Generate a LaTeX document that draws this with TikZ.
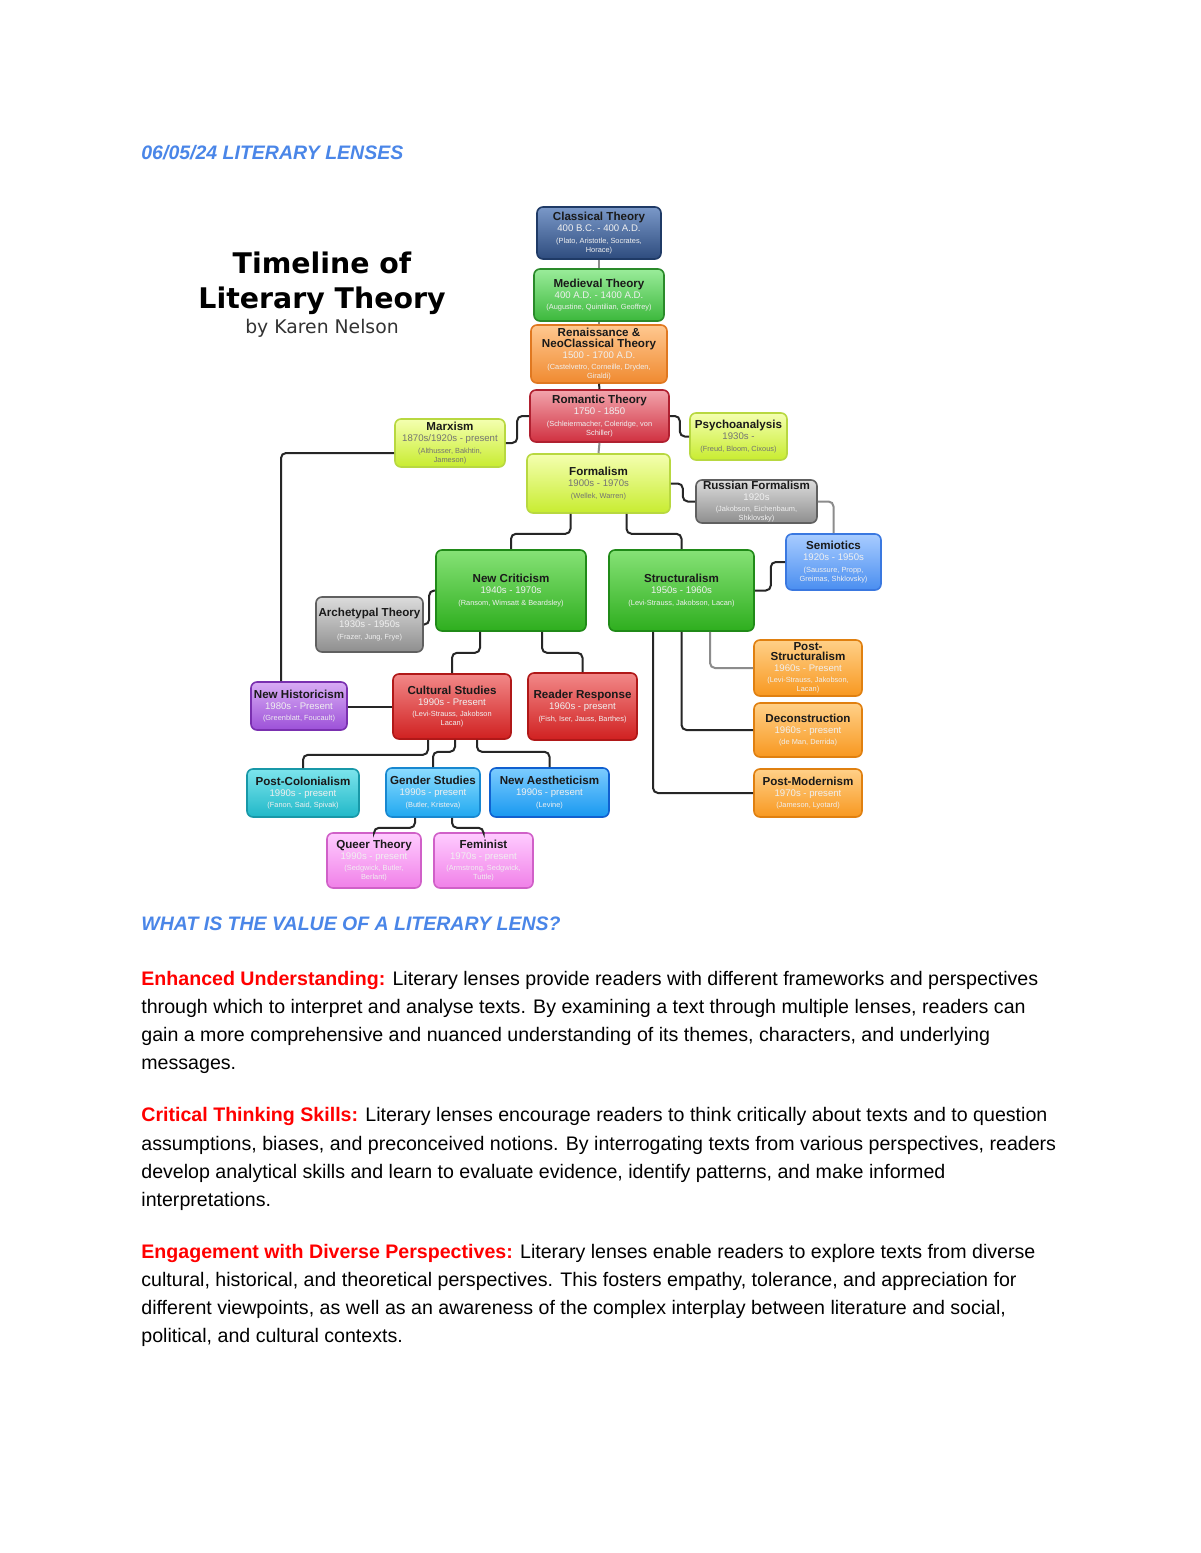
\documentclass[tikz,border=0pt]{standalone}
\usepackage{fontspec}
\setmainfont{Liberation Sans}
\setsansfont{Liberation Sans}
\newfontfamily\dejavu{DejaVu Sans}
\usetikzlibrary{calc}

\definecolor{hblue}{HTML}{4A86E8}
\definecolor{hred}{HTML}{FF0000}
\definecolor{ttl}{HTML}{1A1A1A}
\definecolor{navyT}{HTML}{7A98C8}\definecolor{navyB}{HTML}{2E4C7E}\definecolor{navyD}{HTML}{1F3A66}
\definecolor{grAT}{HTML}{9AEC9A}\definecolor{grAB}{HTML}{3CB83C}\definecolor{grAD}{HTML}{2A8A2A}
\definecolor{orAT}{HTML}{FFC890}\definecolor{orAB}{HTML}{F08A30}\definecolor{orAD}{HTML}{E07820}
\definecolor{prT}{HTML}{F2A4AC}\definecolor{prB}{HTML}{D03040}\definecolor{prD}{HTML}{B02030}
\definecolor{yeT}{HTML}{F4FFB0}\definecolor{yeB}{HTML}{C8EC30}\definecolor{yeD}{HTML}{B8D840}
\definecolor{gyT}{HTML}{DCDCDC}\definecolor{gyB}{HTML}{8E8E8E}\definecolor{gyD}{HTML}{606060}
\definecolor{smT}{HTML}{A8CCFF}\definecolor{smB}{HTML}{4A8EF0}\definecolor{smD}{HTML}{3A78E0}
\definecolor{grBT}{HTML}{86E276}\definecolor{grBB}{HTML}{2EAE1E}\definecolor{grBD}{HTML}{208A18}
\definecolor{puT}{HTML}{D8ACF4}\definecolor{puB}{HTML}{9C50D8}\definecolor{puD}{HTML}{7A30B0}
\definecolor{rdT}{HTML}{F28888}\definecolor{rdB}{HTML}{D02020}\definecolor{rdD}{HTML}{B01818}
\definecolor{orBT}{HTML}{FFD088}\definecolor{orBB}{HTML}{F89820}\definecolor{orBD}{HTML}{E08010}
\definecolor{teT}{HTML}{7CE4EC}\definecolor{teB}{HTML}{20B8C8}\definecolor{teD}{HTML}{1898A8}
\definecolor{lbT}{HTML}{8CDCFF}\definecolor{lbB}{HTML}{20A8F0}\definecolor{lbD}{HTML}{1888D0}
\definecolor{blT}{HTML}{7CCCFF}\definecolor{blB}{HTML}{1898F0}\definecolor{blD}{HTML}{1060D0}
\definecolor{pkT}{HTML}{FFCCFF}\definecolor{pkB}{HTML}{F080E8}\definecolor{pkD}{HTML}{D060C8}

\newcommand\bxt[1]{{\color{ttl}\bfseries\fontsize{5.8}{6.5}\selectfont #1}}
\newcommand\bxd[1]{{\color{white!94!black}\fontsize{4.8}{6}\selectfont #1}}
\newcommand\bxa[1]{{\color{white!94!black}\fontsize{3.7}{5}\selectfont #1}}
\newcommand\bxg[1]{{\color{black!55}\fontsize{4.8}{6}\selectfont #1}}
\newcommand\bxh[1]{{\color{black!55}\fontsize{3.7}{5}\selectfont #1}}

\tikzset{
  lb/.style={rounded corners=3pt, line width=0.8pt, align=center, inner sep=0pt,
    font=\fontsize{5}{5.6}\selectfont},
  sz/.style 2 args={minimum width=#1*0.5pt, minimum height=#2*0.5pt},
  cnavy/.style={top color=navyT, bottom color=navyB, draw=navyD},
  cgreenA/.style={top color=grAT, bottom color=grAB, draw=grAD},
  corangeA/.style={top color=orAT, bottom color=orAB, draw=orAD},
  cpinkred/.style={top color=prT, bottom color=prB, draw=prD},
  cyellow/.style={top color=yeT, bottom color=yeB, draw=yeD},
  cgray/.style={top color=gyT, bottom color=gyB, draw=gyD},
  csemi/.style={top color=smT, bottom color=smB, draw=smD},
  cgreenB/.style={top color=grBT, bottom color=grBB, draw=grBD},
  cpurple/.style={top color=puT, bottom color=puB, draw=puD},
  cred/.style={top color=rdT, bottom color=rdB, draw=rdD},
  corangeB/.style={top color=orBT, bottom color=orBB, draw=orBD},
  cteal/.style={top color=teT, bottom color=teB, draw=teD},
  cltblue/.style={top color=lbT, bottom color=lbB, draw=lbD},
  cblue/.style={top color=blT, bottom color=blB, draw=blD},
  cpink/.style={top color=pkT, bottom color=pkB, draw=pkD},
  conn/.style={draw=black!85, line width=1pt, rounded corners=2.5pt},
  connl/.style={draw=black!45, line width=1pt, rounded corners=2.5pt},
  body/.style={anchor=base west, inner sep=0pt, font=\fontsize{9.8}{11}\selectfont},
  head/.style={anchor=base west, inner sep=0pt, text=hblue,
    font=\fontsize{9.75}{11}\selectfont\bfseries\itshape},
}

\begin{document}
\begin{tikzpicture}[x=0.5pt, y=-0.5pt]
\useasboundingbox (0,0) rectangle (1200,1553);
\fill[white] (0,0) rectangle (1200,1553);

% header
\node[head] (hd) at (141,159) {06/05/24 LITERARY LENSES};

% title
\node[anchor=base, inner sep=0pt, font=\dejavu\bfseries\fontsize{14.2}{16}\selectfont] (t1) at (322,273) {Timeline of};
\node[anchor=base, inner sep=0pt, font=\dejavu\bfseries\fontsize{14.2}{16}\selectfont] (t2) at (322,308) {Literary Theory};
\node[anchor=base, inner sep=0pt, font=\dejavu\fontsize{9.4}{11}\selectfont, text=black!80] (t3) at (322,333) {by Karen Nelson};

% boxes
\node[lb, cnavy, sz={124}{52}] (ct) at (599,233)
  {\bxt{Classical Theory}\\ \bxd{400 B.C. - 400 A.D.}\\ \bxa{(Plato, Aristotle, Socrates,}\\[-1pt] \bxa{Horace)}};
\node[lb, cgreenA, sz={130}{52}] (mt) at (599,295)
  {\bxt{Medieval Theory}\\ \bxd{400 A.D. - 1400 A.D.}\\ \bxa{(Augustine, Quintilian, Geoffrey)}};
\node[lb, corangeA, sz={136}{58}] (rn) at (599,354)
  {\bxt{Renaissance \&}\\ \bxt{NeoClassical Theory}\\ \bxd{1500 - 1700 A.D.}\\ \bxa{(Castelvetro, Corneille, Dryden,}\\[-1pt] \bxa{Giraldi)}};
\node[lb, cpinkred, sz={139}{52}] (ro) at (599.5,416)
  {\bxt{Romantic Theory}\\ \bxd{1750 - 1850}\\ \bxa{(Schleiermacher, Coleridge, von}\\[-1pt] \bxa{Schiller)}};
\node[lb, cyellow, sz={110}{48}] (mx) at (450,443)
  {\bxt{Marxism}\\ \bxg{1870s/1920s - present}\\ \bxh{(Althusser, Bakhtin,}\\[-1pt] \bxh{Jameson)}};
\node[lb, cyellow, sz={97}{47}] (ps) at (738.5,436.5)
  {\bxt{Psychoanalysis}\\ \bxg{1930s -}\\ \bxh{(Freud, Bloom, Cixous)}};
\node[lb, cyellow, sz={143}{59}] (fo) at (598.5,483.5)
  {\bxt{Formalism}\\ \bxg{1900s - 1970s}\\ \bxh{(Wellek, Warren)}};
\node[lb, cgray, sz={121}{43}] (rf) at (756.5,501.5)
  {\bxt{Russian Formalism}\\ \bxd{1920s}\\ \bxa{(Jakobson, Eichenbaum,}\\[-1pt] \bxa{Shklovsky)}};
\node[lb, csemi, sz={95}{56}] (se) at (833.5,562)
  {\bxt{Semiotics}\\ \bxd{1920s - 1950s}\\ \bxa{(Saussure, Propp,}\\[-1pt] \bxa{Greimas, Shklovsky)}};
\node[lb, cgreenB, sz={150}{81}] (nc) at (511,590.5)
  {\bxt{New Criticism}\\ \bxd{1940s - 1970s}\\ \bxa{(Ransom, Wimsatt \& Beardsley)}};
\node[lb, cgreenB, sz={145}{81}] (st) at (681.5,590.5)
  {\bxt{Structuralism}\\ \bxd{1950s - 1960s}\\ \bxa{(Levi-Strauss, Jakobson, Lacan)}};
\node[lb, cgray, sz={107}{55}] (ar) at (369.5,624.5)
  {\bxt{Archetypal Theory}\\ \bxd{1930s - 1950s}\\ \bxa{(Frazer, Jung, Frye)}};
\node[lb, cpurple, sz={96}{48}] (nh) at (299,706)
  {\bxt{New Historicism}\\ \bxd{1980s - Present}\\ \bxa{(Greenblatt, Foucault)}};
\node[lb, cred, sz={118}{65}] (cs) at (452,706.5)
  {\bxt{Cultural Studies}\\ \bxd{1990s - Present}\\ \bxa{(Levi-Strauss, Jakobson}\\[-1pt] \bxa{Lacan)}};
\node[lb, cred, sz={109}{67}] (rr) at (582.5,706.5)
  {\bxt{Reader Response}\\ \bxd{1960s - present}\\ \bxa{(Fish, Iser, Jauss, Barthes)}};
\node[lb, corangeB, sz={108}{56}] (pst) at (808,668)
  {\bxt{Post-}\\[-1pt] \bxt{Structuralism}\\ \bxd{1960s - Present}\\ \bxa{(Levi-Strauss, Jakobson,}\\[-1pt] \bxa{Lacan)}};
\node[lb, corangeB, sz={108}{54}] (dc) at (808,730)
  {\bxt{Deconstruction}\\ \bxd{1960s - present}\\ \bxa{(de Man, Derrida)}};
\node[lb, corangeB, sz={108}{48}] (pm) at (808,793)
  {\bxt{Post-Modernism}\\ \bxd{1970s - present}\\ \bxa{(Jameson, Lyotard)}};
\node[lb, cteal, sz={112}{48}] (pc) at (303,793)
  {\bxt{Post-Colonialism}\\ \bxd{1990s - present}\\ \bxa{(Fanon, Said, Spivak)}};
\node[lb, cltblue, sz={94}{49}] (gs) at (433,792.5)
  {\bxt{Gender Studies}\\ \bxd{1990s - present}\\ \bxa{(Butler, Kristeva)}};
\node[lb, cblue, sz={119}{49}] (na) at (549.5,792.5)
  {\bxt{New Aestheticism}\\ \bxd{1990s - present}\\ \bxa{(Levine)}};
\node[lb, cpink, sz={94}{55}] (qt) at (374,860.5)
  {\bxt{Queer Theory}\\ \bxd{1990s - present}\\ \bxa{(Sedgwick, Butler,}\\[-1pt] \bxa{Berlant)}};
\node[lb, cpink, sz={99}{55}] (fe) at (483.5,860.5)
  {\bxt{Feminist}\\ \bxd{1970s - present}\\ \bxa{(Armstrong, Sedgwick,}\\[-1pt] \bxa{Tuttle)}};

% connectors
\draw[connl] (ct.south) -- (mt.north);
\draw[connl] (mt.south) -- (rn.north);
\draw[conn] (rn.south) -- (ro.north);
\draw[connl] (ro.south) -- (fo.north);
\draw[conn] (ro.west) -- ++(-12,0) |- (mx.east);
\draw[conn] (ro.east) -- ++(10,0) |- (ps.west);
\draw[conn] (fo.east) -- ++(12,0) |- (rf.west);
\draw[connl] (rf.east) -| (se.north);
\draw[conn] ($(fo.south)+(-28,0)$) -- ++(0,20) -| (nc.north);
\draw[conn] ($(fo.south)+(28,0)$) -- ++(0,20) -| (st.north);
\draw[conn] (st.east) -- ++(16,0) |- (se.west);
\draw[conn] (nc.west) -- ++(-6,0) |- (ar.east);
\draw[conn] ($(mx.west)+(0,10)$) -| ($(nh.north)+(-18,0)$);
\draw[conn] ($(nc.south)+(-31,0)$) -- ++(0,21) -| (cs.north);
\draw[conn] ($(nc.south)+(31,0)$) -- ++(0,21) -| (rr.north);
\draw[conn] (cs.west) -- (cs.west -| nh.east);
\draw[conn] ($(cs.south)+(-24,0)$) -- ++(0,15) -| (pc.north);
\draw[conn] ($(cs.south)+(3,0)$) -- ++(0,12) -| (gs.north);
\draw[conn] ($(cs.south)+(25,0)$) -- ++(0,12) -| (na.north);
\draw[conn] ($(gs.south)+(-18,0)$) -- ++(0,10) -| (qt.north);
\draw[conn] ($(gs.south)+(19,0)$) -- ++(0,10) -| (fe.north);
\draw[connl] ($(st.south)+(28.5,0)$) |- (pst.west);
\draw[conn] (st.south) |- (dc.west);
\draw[conn] ($(st.south)+(-28.5,0)$) |- (pm.west);

% question heading
\node[head] (q) at (141,930) {WHAT IS THE VALUE OF A LITERARY LENS?};

% paragraph 1
\node[body] (p1a) at (141,985) {{\color{hred}\bfseries Enhanced Understanding:} Literary lenses provide readers with different frameworks and perspectives};
\node[body] (p1b) at (141,1013) {through which to interpret and analyse texts. By examining a text through multiple lenses, readers can};
\node[body] (p1c) at (141,1041) {gain a more comprehensive and nuanced understanding of its themes, characters, and underlying};
\node[body] (p1d) at (141,1069) {messages.};

% paragraph 2
\node[body] (p2a) at (141,1121) {{\color{hred}\bfseries Critical Thinking Skills:} Literary lenses encourage readers to think critically about texts and to question};
\node[body] (p2b) at (141,1150) {assumptions, biases, and preconceived notions. By interrogating texts from various perspectives, readers};
\node[body] (p2c) at (141,1178) {develop analytical skills and learn to evaluate evidence, identify patterns, and make informed};
\node[body] (p2d) at (141,1206) {interpretations.};

% paragraph 3
\node[body] (p3a) at (141,1258) {{\color{hred}\bfseries Engagement with Diverse Perspectives:} Literary lenses enable readers to explore texts from diverse};
\node[body] (p3b) at (141,1286) {cultural, historical, and theoretical perspectives. This fosters empathy, tolerance, and appreciation for};
\node[body] (p3c) at (141,1314) {different viewpoints, as well as an awareness of the complex interplay between literature and social,};
\node[body] (p3d) at (141,1342) {political, and cultural contexts.};
\end{tikzpicture}
\end{document}
